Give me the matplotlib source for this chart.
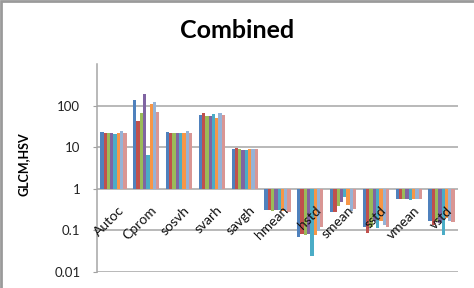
import numpy as np
import matplotlib
matplotlib.use("Agg")
import matplotlib.pyplot as plt
from matplotlib.patches import Rectangle

plt.rcParams['font.family'] = ['Lato', 'DejaVu Sans']

categories = ['Autoc', 'Cprom', 'sosvh', 'svarh', 'savgh', 'hmean',
              'hstd', 'smean', 'sstd', 'vmean', 'vstd']

# one list per series (8 series)
s1 = [23.0, 133, 23.0, 58, 9.2, 0.31, 0.069, 0.275, 0.124, 0.56, 0.164]
s2 = [22.5, 43, 22.5, 65, 9.5, 0.31, 0.083, 0.275, 0.086, 0.56, 0.136]
s3 = [22.0, 65, 22.0, 57, 9.0, 0.30, 0.078, 0.38, 0.124, 0.58, 0.164]
s4 = [21.5, 192, 21.5, 55, 8.7, 0.31, 0.083, 0.47, 0.164, 0.56, 0.150]
s5 = [21.0, 6.6, 21.5, 62, 8.8, 0.31, 0.024, 0.63, 0.113, 0.55, 0.079]
s6 = [22.0, 110, 21.5, 51, 9.0, 0.30, 0.078, 0.41, 0.164, 0.58, 0.197]
s7 = [24.0, 123, 24.0, 65, 9.3, 0.31, 0.098, 0.285, 0.136, 0.57, 0.164]
s8 = [22.0, 71, 22.5, 59, 9.0, 0.28, 0.124, 0.32, 0.124, 0.58, 0.155]
series = [s1, s2, s3, s4, s5, s6, s7, s8]
colors = ['#4F81BD', '#C0504D', '#9BBB59', '#8064A2',
          '#4BACC6', '#F79646', '#95B3D7', '#D99694']

fig = plt.figure(figsize=(4.74, 2.88), dpi=100)
ax = fig.add_axes([97/474, 1-272/288, (458-97)/474, (272-64)/288])

x = np.arange(len(categories))
w = 0.1
for k, (vals, c) in enumerate(zip(series, colors)):
    vals = np.array(vals)
    # Excel style: bars grow from the axis crossing at 1
    ax.bar(x + (k - 3.5) * w, vals - 1, bottom=1, width=w, color=c,
           linewidth=0, zorder=3)

ax.set_yscale('log')
ax.set_ylim(0.01, 1000)
ax.set_xlim(-0.5, len(categories) - 0.5)
ax.set_yticks([0.01, 0.1, 1, 10, 100])
ax.set_yticklabels(['0.01', '0.1', '1', '10', '100'])
ax.yaxis.set_minor_locator(matplotlib.ticker.NullLocator())
ax.tick_params(axis='y', length=3, pad=9, labelsize=9.5, color='#A0A0A0',
               labelcolor='#222222')
ax.set_xticks([])
ax.grid(axis='y', color='#A6A6A6', linewidth=1.1, zorder=0)
for sp in ['top', 'right', 'bottom']:
    ax.spines[sp].set_visible(False)
ax.spines['left'].set_color('#A6A6A6')
ax.spines['left'].set_linewidth(1.1)

for i, lab in enumerate(categories):
    ax.annotate(lab, (i, 1), xytext=(3, -11), textcoords='offset points',
                rotation=45, ha='right', va='top', rotation_mode='anchor',
                fontsize=10, color='#111111')

ax.set_ylabel('GLCM,HSV', fontsize=9, fontweight='bold')
ax.yaxis.set_label_coords(-0.186, 0.52)

fig.text(0.5, 1 - 31/288, 'Combined', ha='center', va='center',
         fontsize=18, fontweight='bold')

# grey chart frame (top and left edges visible in the crop)
fig.add_artist(Rectangle((1/474, -0.01), 1.2, 1 - 1/288 + 0.01,
                         transform=fig.transFigure, fill=False,
                         edgecolor='#9A9A9A', linewidth=2))

fig.savefig('out.png', dpi=100)
